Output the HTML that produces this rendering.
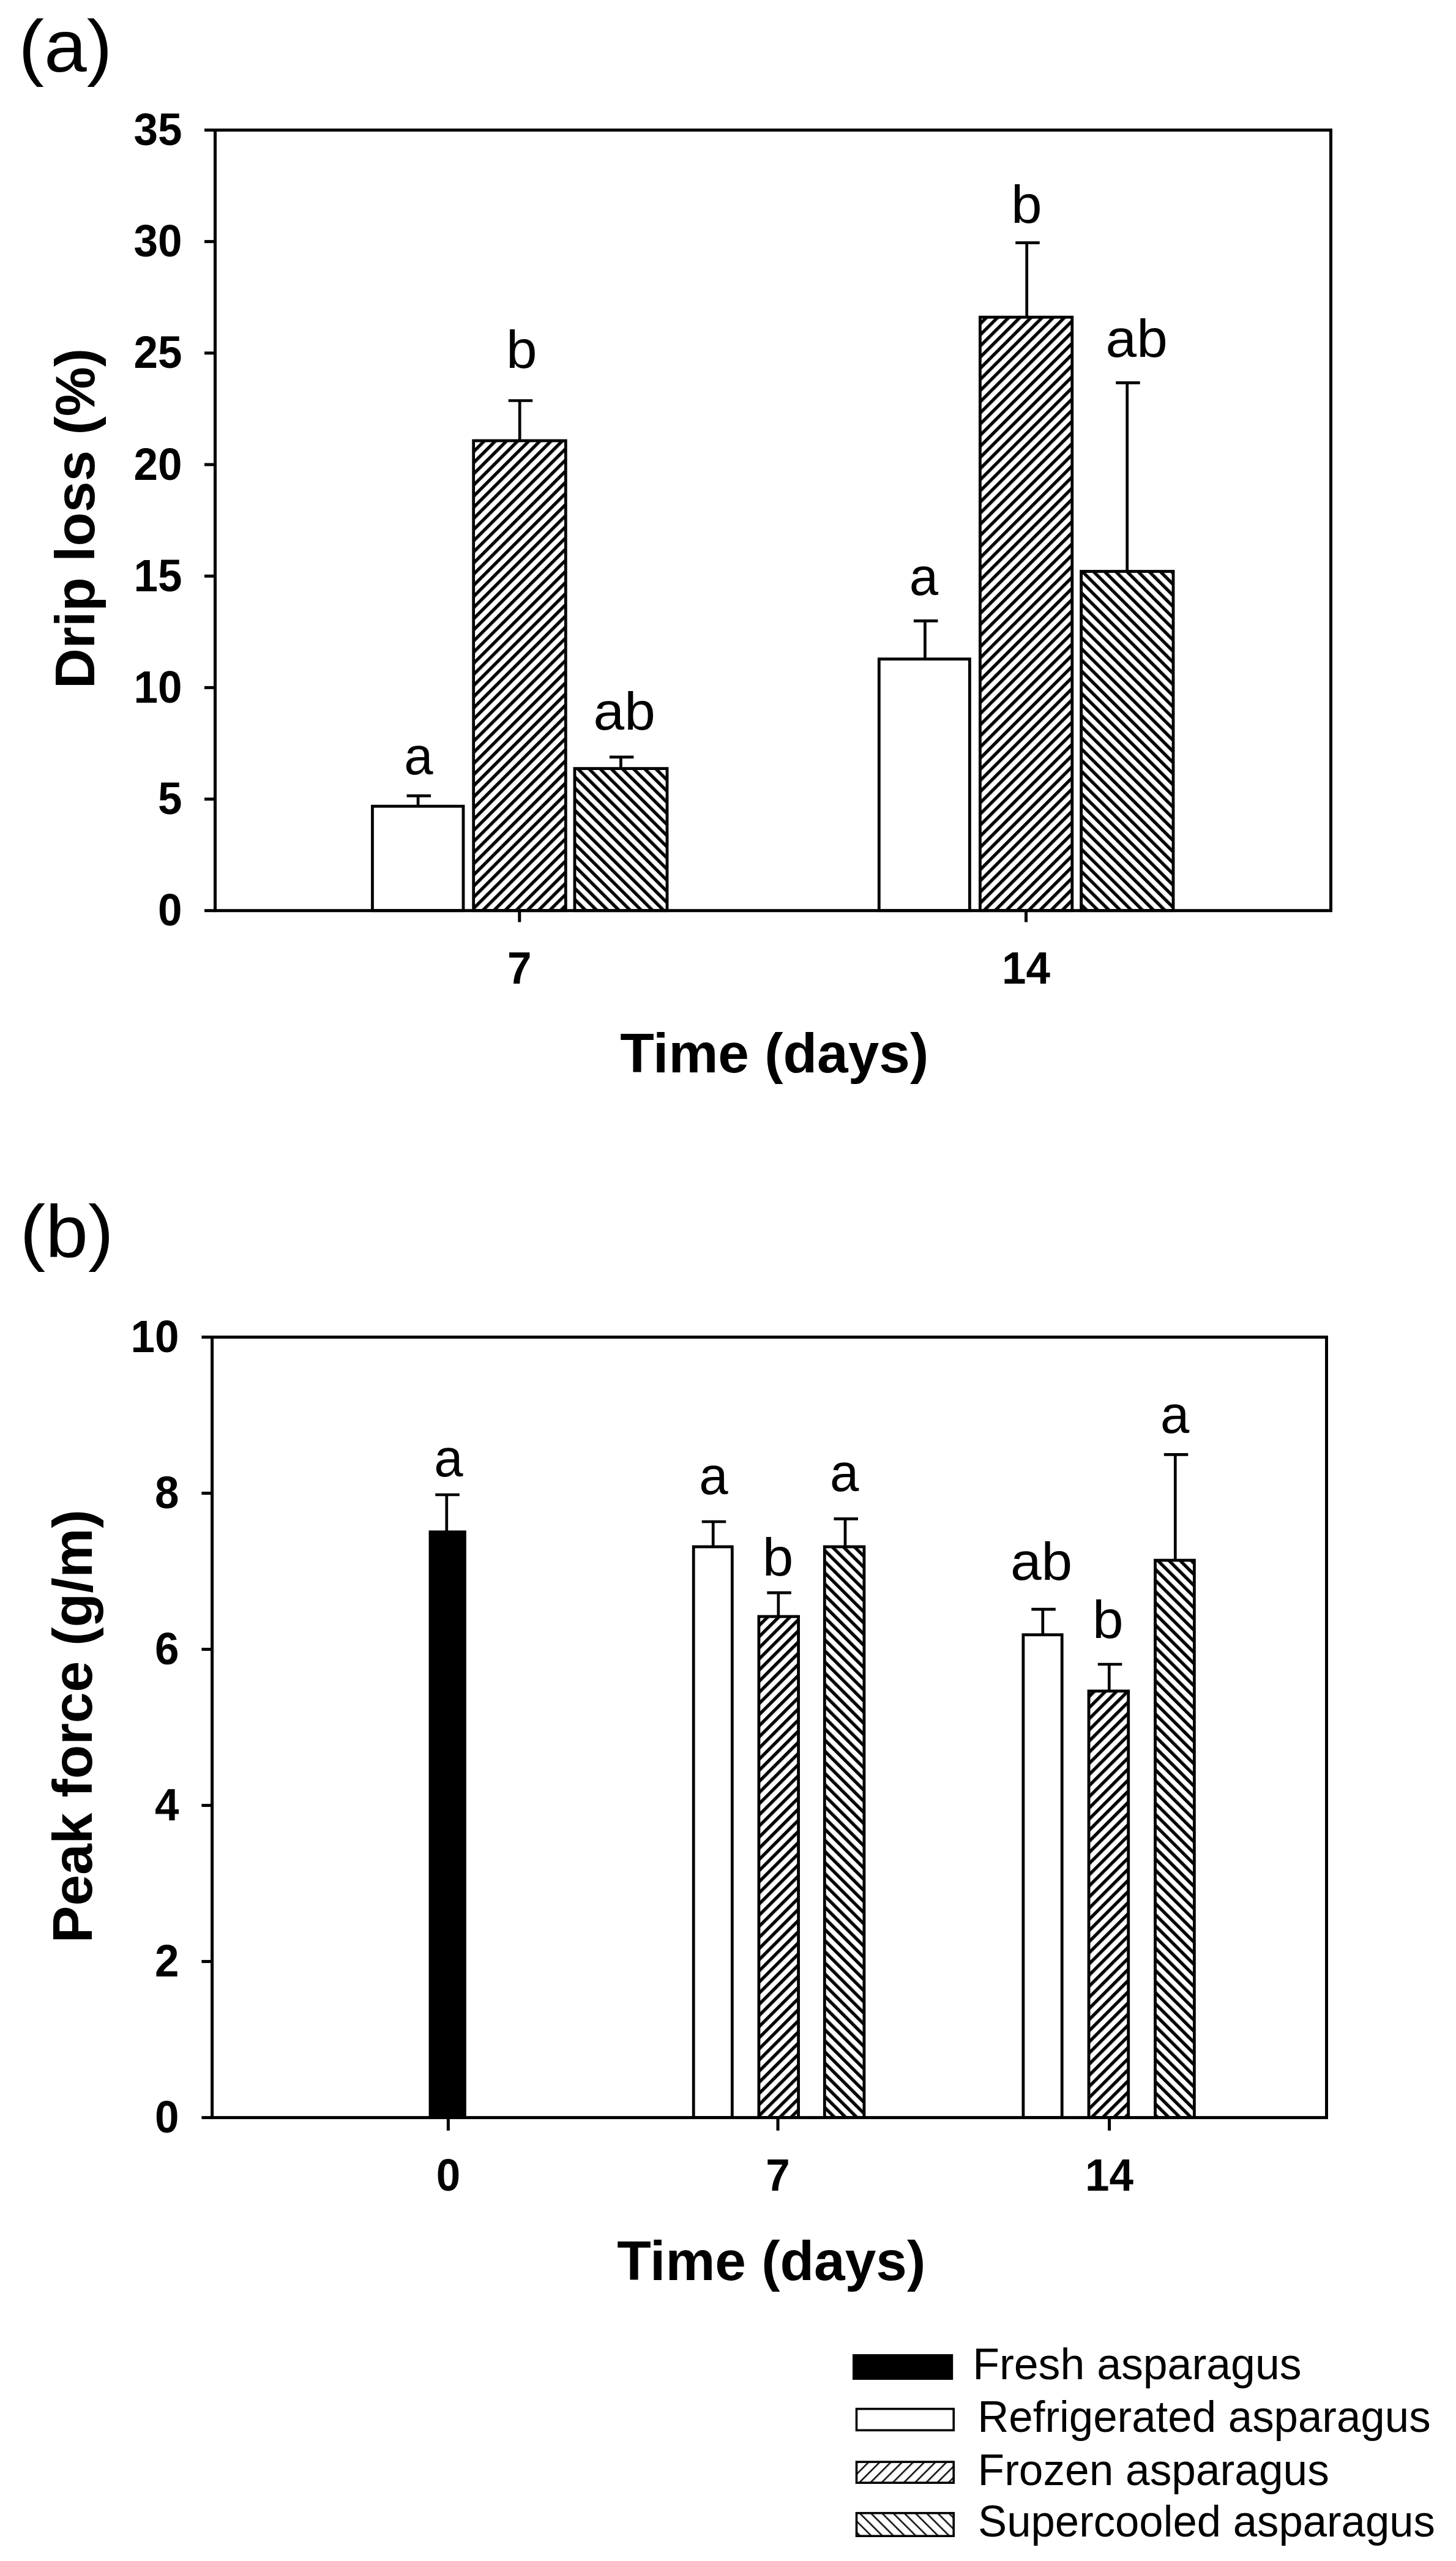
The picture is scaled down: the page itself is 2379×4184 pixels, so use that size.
<!DOCTYPE html>
<html lang="en"><head><meta charset="utf-8"><title>Drip loss and peak force of asparagus</title>
<style>html,body{margin:0;padding:0;background:#fff}svg{display:block}text{font-family:"Liberation Sans", sans-serif;fill:#000}</style>
</head><body>
<svg width="2379" height="4184" viewBox="0 0 2379 4184" role="img" aria-label="Drip loss and peak force of asparagus during storage">
<defs>
<pattern id="hf" patternUnits="userSpaceOnUse" width="12.87" height="12.87" patternTransform="translate(-2.65 0) rotate(45)"><rect x="0" y="0" width="5.3" height="12.87" fill="#000" stroke="none"/></pattern>
<pattern id="hb" patternUnits="userSpaceOnUse" width="12.87" height="12.87" patternTransform="translate(11.95 0) rotate(-45)"><rect x="0" y="0" width="5.3" height="12.87" fill="#000" stroke="none"/></pattern>
<pattern id="lf" patternUnits="userSpaceOnUse" width="12.87" height="12.87" patternTransform="translate(16.06 0) rotate(45)"><rect x="0" y="0" width="2.6" height="12.87" fill="#111" stroke="none"/></pattern>
<pattern id="lb" patternUnits="userSpaceOnUse" width="12.87" height="12.87" patternTransform="translate(8.96 0) rotate(-45)"><rect x="0" y="0" width="2.6" height="12.87" fill="#111" stroke="none"/></pattern>
</defs>
<rect x="0" y="0" width="2379" height="4184" fill="#fff" stroke="none"/>
<text transform="translate(30.3 117) scale(1.045 1)" font-size="120" font-weight="normal" text-anchor="start">(a)</text>
<rect x="608.5" y="1317.2" width="148.5" height="170.5" fill="#fff" stroke="#000" stroke-width="4.8"/>
<rect x="773.7" y="720" width="150.6" height="767.7" fill="url(#hf)" stroke="#000" stroke-width="4.8"/>
<rect x="939" y="1255.6" width="151" height="232.1" fill="url(#hb)" stroke="#000" stroke-width="4.8"/>
<rect x="1436.3" y="1076.7" width="148.1" height="411" fill="#fff" stroke="#000" stroke-width="4.8"/>
<rect x="1601.4" y="518.2" width="150.4" height="969.5" fill="url(#hf)" stroke="#000" stroke-width="4.8"/>
<rect x="1766.6" y="933.5" width="150.4" height="554.2" fill="url(#hb)" stroke="#000" stroke-width="4.8"/>
<line x1="683.1" y1="1300.2" x2="683.1" y2="1317.2" stroke="#000" stroke-width="4.7"/>
<line x1="664.6" y1="1300.2" x2="704.1" y2="1300.2" stroke="#000" stroke-width="4.7"/>
<line x1="849.2" y1="654.5" x2="849.2" y2="720" stroke="#000" stroke-width="4.7"/>
<line x1="830.7" y1="654.5" x2="870.2" y2="654.5" stroke="#000" stroke-width="4.7"/>
<line x1="1014.4" y1="1236.8" x2="1014.4" y2="1255.6" stroke="#000" stroke-width="4.7"/>
<line x1="995.9" y1="1236.8" x2="1035.4" y2="1236.8" stroke="#000" stroke-width="4.7"/>
<line x1="1511.4" y1="1014.3" x2="1511.4" y2="1076.7" stroke="#000" stroke-width="4.7"/>
<line x1="1492.9" y1="1014.3" x2="1532.4" y2="1014.3" stroke="#000" stroke-width="4.7"/>
<line x1="1677.7" y1="396.6" x2="1677.7" y2="518.2" stroke="#000" stroke-width="4.7"/>
<line x1="1659.2" y1="396.6" x2="1698.7" y2="396.6" stroke="#000" stroke-width="4.7"/>
<line x1="1841.7" y1="625.3" x2="1841.7" y2="933.5" stroke="#000" stroke-width="4.7"/>
<line x1="1823.2" y1="625.3" x2="1862.7" y2="625.3" stroke="#000" stroke-width="4.7"/>
<rect x="351.5" y="212.5" width="1823" height="1275.2" fill="none" stroke="#000" stroke-width="5"/>
<line x1="334" y1="1487.7" x2="351.5" y2="1487.7" stroke="#000" stroke-width="5"/>
<text transform="translate(297.5 1512.2) scale(1 1.04)" font-size="71" font-weight="bold" text-anchor="end">0</text>
<line x1="334" y1="1305.53" x2="351.5" y2="1305.53" stroke="#000" stroke-width="5"/>
<text transform="translate(297.5 1330.03) scale(1 1.04)" font-size="71" font-weight="bold" text-anchor="end">5</text>
<line x1="334" y1="1123.36" x2="351.5" y2="1123.36" stroke="#000" stroke-width="5"/>
<text transform="translate(297.5 1147.86) scale(1 1.04)" font-size="71" font-weight="bold" text-anchor="end">10</text>
<line x1="334" y1="941.19" x2="351.5" y2="941.19" stroke="#000" stroke-width="5"/>
<text transform="translate(297.5 965.69) scale(1 1.04)" font-size="71" font-weight="bold" text-anchor="end">15</text>
<line x1="334" y1="759.01" x2="351.5" y2="759.01" stroke="#000" stroke-width="5"/>
<text transform="translate(297.5 783.51) scale(1 1.04)" font-size="71" font-weight="bold" text-anchor="end">20</text>
<line x1="334" y1="576.84" x2="351.5" y2="576.84" stroke="#000" stroke-width="5"/>
<text transform="translate(297.5 601.34) scale(1 1.04)" font-size="71" font-weight="bold" text-anchor="end">25</text>
<line x1="334" y1="394.67" x2="351.5" y2="394.67" stroke="#000" stroke-width="5"/>
<text transform="translate(297.5 419.17) scale(1 1.04)" font-size="71" font-weight="bold" text-anchor="end">30</text>
<line x1="334" y1="212.5" x2="351.5" y2="212.5" stroke="#000" stroke-width="5"/>
<text transform="translate(297.5 237) scale(1 1.04)" font-size="71" font-weight="bold" text-anchor="end">35</text>
<line x1="848.8" y1="1487.7" x2="848.8" y2="1506.5" stroke="#000" stroke-width="5"/>
<text transform="translate(848.8 1606.8) scale(1 1.04)" font-size="71" font-weight="bold" text-anchor="middle">7</text>
<line x1="1676.5" y1="1487.7" x2="1676.5" y2="1506.5" stroke="#000" stroke-width="5"/>
<text transform="translate(1676.5 1606.8) scale(1 1.04)" font-size="71" font-weight="bold" text-anchor="middle">14</text>
<text x="1265.2" y="1752" font-size="91" font-weight="bold" text-anchor="middle">Time (days)</text>
<text transform="translate(154.4 847) rotate(-90)" font-size="91" font-weight="bold" text-anchor="middle">Drip loss (%)</text>
<text transform="translate(660.19 1265) scale(0.935 0.955)" font-size="91" font-weight="normal" text-anchor="start">a</text>
<text transform="translate(827 601) scale(1 0.965)" font-size="91" font-weight="normal" text-anchor="start">b</text>
<text transform="translate(969.57 1192) scale(1 0.965)" font-size="91" font-weight="normal" text-anchor="start">ab</text>
<text transform="translate(1485.79 971.5) scale(0.935 0.955)" font-size="91" font-weight="normal" text-anchor="start">a</text>
<text transform="translate(1652 364) scale(1 0.965)" font-size="91" font-weight="normal" text-anchor="start">b</text>
<text transform="translate(1806.57 583) scale(1 0.965)" font-size="91" font-weight="normal" text-anchor="start">ab</text>
<text transform="translate(32.5 2052.5) scale(1.045 1)" font-size="120" font-weight="normal" text-anchor="start">(b)</text>
<rect x="703" y="2502.8" width="56.4" height="956.8" fill="#000" stroke="#000" stroke-width="4.8"/>
<rect x="1133.2" y="2527" width="63.1" height="932.6" fill="#fff" stroke="#000" stroke-width="4.8"/>
<rect x="1239.9" y="2641" width="64.7" height="818.6" fill="url(#hf)" stroke="#000" stroke-width="4.8"/>
<rect x="1347.3" y="2527" width="64.6" height="932.6" fill="url(#hb)" stroke="#000" stroke-width="4.8"/>
<rect x="1671.9" y="2670.8" width="63.3" height="788.8" fill="#fff" stroke="#000" stroke-width="4.8"/>
<rect x="1779" y="2762.8" width="64.7" height="696.8" fill="url(#hf)" stroke="#000" stroke-width="4.8"/>
<rect x="1887.5" y="2549.1" width="63.9" height="910.5" fill="url(#hb)" stroke="#000" stroke-width="4.8"/>
<line x1="729.8" y1="2442" x2="729.8" y2="2502.8" stroke="#000" stroke-width="4.7"/>
<line x1="711.3" y1="2442" x2="750.8" y2="2442" stroke="#000" stroke-width="4.7"/>
<line x1="1165.2" y1="2486" x2="1165.2" y2="2527" stroke="#000" stroke-width="4.7"/>
<line x1="1146.7" y1="2486" x2="1186.2" y2="2486" stroke="#000" stroke-width="4.7"/>
<line x1="1271.8" y1="2602.2" x2="1271.8" y2="2641" stroke="#000" stroke-width="4.7"/>
<line x1="1253.3" y1="2602.2" x2="1292.8" y2="2602.2" stroke="#000" stroke-width="4.7"/>
<line x1="1381" y1="2481.3" x2="1381" y2="2527" stroke="#000" stroke-width="4.7"/>
<line x1="1362.5" y1="2481.3" x2="1402" y2="2481.3" stroke="#000" stroke-width="4.7"/>
<line x1="1703.8" y1="2629.1" x2="1703.8" y2="2670.8" stroke="#000" stroke-width="4.7"/>
<line x1="1685.3" y1="2629.1" x2="1724.8" y2="2629.1" stroke="#000" stroke-width="4.7"/>
<line x1="1812.3" y1="2719" x2="1812.3" y2="2762.8" stroke="#000" stroke-width="4.7"/>
<line x1="1793.8" y1="2719" x2="1833.3" y2="2719" stroke="#000" stroke-width="4.7"/>
<line x1="1920.3" y1="2376.4" x2="1920.3" y2="2549.1" stroke="#000" stroke-width="4.7"/>
<line x1="1901.8" y1="2376.4" x2="1941.3" y2="2376.4" stroke="#000" stroke-width="4.7"/>
<rect x="346.6" y="2184.5" width="1820.9" height="1275.1" fill="none" stroke="#000" stroke-width="5"/>
<line x1="329.4" y1="3459.6" x2="346.6" y2="3459.6" stroke="#000" stroke-width="5"/>
<text transform="translate(292.5 3484.1) scale(1 1.04)" font-size="71" font-weight="bold" text-anchor="end">0</text>
<line x1="329.4" y1="3204.58" x2="346.6" y2="3204.58" stroke="#000" stroke-width="5"/>
<text transform="translate(292.5 3229.08) scale(1 1.04)" font-size="71" font-weight="bold" text-anchor="end">2</text>
<line x1="329.4" y1="2949.56" x2="346.6" y2="2949.56" stroke="#000" stroke-width="5"/>
<text transform="translate(292.5 2974.06) scale(1 1.04)" font-size="71" font-weight="bold" text-anchor="end">4</text>
<line x1="329.4" y1="2694.54" x2="346.6" y2="2694.54" stroke="#000" stroke-width="5"/>
<text transform="translate(292.5 2719.04) scale(1 1.04)" font-size="71" font-weight="bold" text-anchor="end">6</text>
<line x1="329.4" y1="2439.52" x2="346.6" y2="2439.52" stroke="#000" stroke-width="5"/>
<text transform="translate(292.5 2464.02) scale(1 1.04)" font-size="71" font-weight="bold" text-anchor="end">8</text>
<line x1="329.4" y1="2184.5" x2="346.6" y2="2184.5" stroke="#000" stroke-width="5"/>
<text transform="translate(292.5 2209) scale(1 1.04)" font-size="71" font-weight="bold" text-anchor="end">10</text>
<line x1="732.4" y1="3459.6" x2="732.4" y2="3480.8" stroke="#000" stroke-width="5"/>
<text transform="translate(732.4 3579.2) scale(1 1.04)" font-size="71" font-weight="bold" text-anchor="middle">0</text>
<line x1="1271" y1="3459.6" x2="1271" y2="3480.8" stroke="#000" stroke-width="5"/>
<text transform="translate(1271 3579.2) scale(1 1.04)" font-size="71" font-weight="bold" text-anchor="middle">7</text>
<line x1="1812.6" y1="3459.6" x2="1812.6" y2="3480.8" stroke="#000" stroke-width="5"/>
<text transform="translate(1812.6 3579.2) scale(1 1.04)" font-size="71" font-weight="bold" text-anchor="middle">14</text>
<text x="1260.2" y="3725" font-size="91" font-weight="bold" text-anchor="middle">Time (days)</text>
<text transform="translate(149.9 2820.3) rotate(-90)" font-size="91" font-weight="bold" text-anchor="middle">Peak force (g/m)</text>
<text transform="translate(709.19 2411.5) scale(0.935 0.955)" font-size="91" font-weight="normal" text-anchor="start">a</text>
<text transform="translate(1142.29 2441) scale(0.935 0.955)" font-size="91" font-weight="normal" text-anchor="start">a</text>
<text transform="translate(1245.7 2574) scale(1 0.965)" font-size="91" font-weight="normal" text-anchor="start">b</text>
<text transform="translate(1355.99 2435.5) scale(0.935 0.955)" font-size="91" font-weight="normal" text-anchor="start">a</text>
<text transform="translate(1650.97 2581) scale(1 0.965)" font-size="91" font-weight="normal" text-anchor="start">ab</text>
<text transform="translate(1784.9 2676) scale(1 0.965)" font-size="91" font-weight="normal" text-anchor="start">b</text>
<text transform="translate(1895.99 2341) scale(0.935 0.955)" font-size="91" font-weight="normal" text-anchor="start">a</text>
<rect x="1393" y="3846.1" width="164.2" height="41.9" fill="#000" stroke="none"/>
<rect x="1399.5" y="3935.5" width="158.7" height="34.9" fill="#fff" stroke="#000" stroke-width="3.6"/>
<rect x="1399.5" y="4022.1" width="158.7" height="34.1" fill="url(#lf)" stroke="#000" stroke-width="3.6"/>
<rect x="1399.5" y="4105.7" width="158.7" height="37.5" fill="url(#lb)" stroke="#000" stroke-width="3.6"/>
<text transform="translate(1589.22 3887.2) scale(1.0086 1.025)" font-size="71" font-weight="normal" text-anchor="start">Fresh asparagus</text>
<text transform="translate(1597.19 3973.4) scale(0.998 1.025)" font-size="71" font-weight="normal" text-anchor="start">Refrigerated asparagus</text>
<text transform="translate(1597.62 4059.8) scale(1.0035 1.025)" font-size="71" font-weight="normal" text-anchor="start">Frozen asparagus</text>
<text transform="translate(1597.99 4144.4) scale(0.996 1.025)" font-size="71" font-weight="normal" text-anchor="start">Supercooled asparagus</text>
</svg>
</body></html>
